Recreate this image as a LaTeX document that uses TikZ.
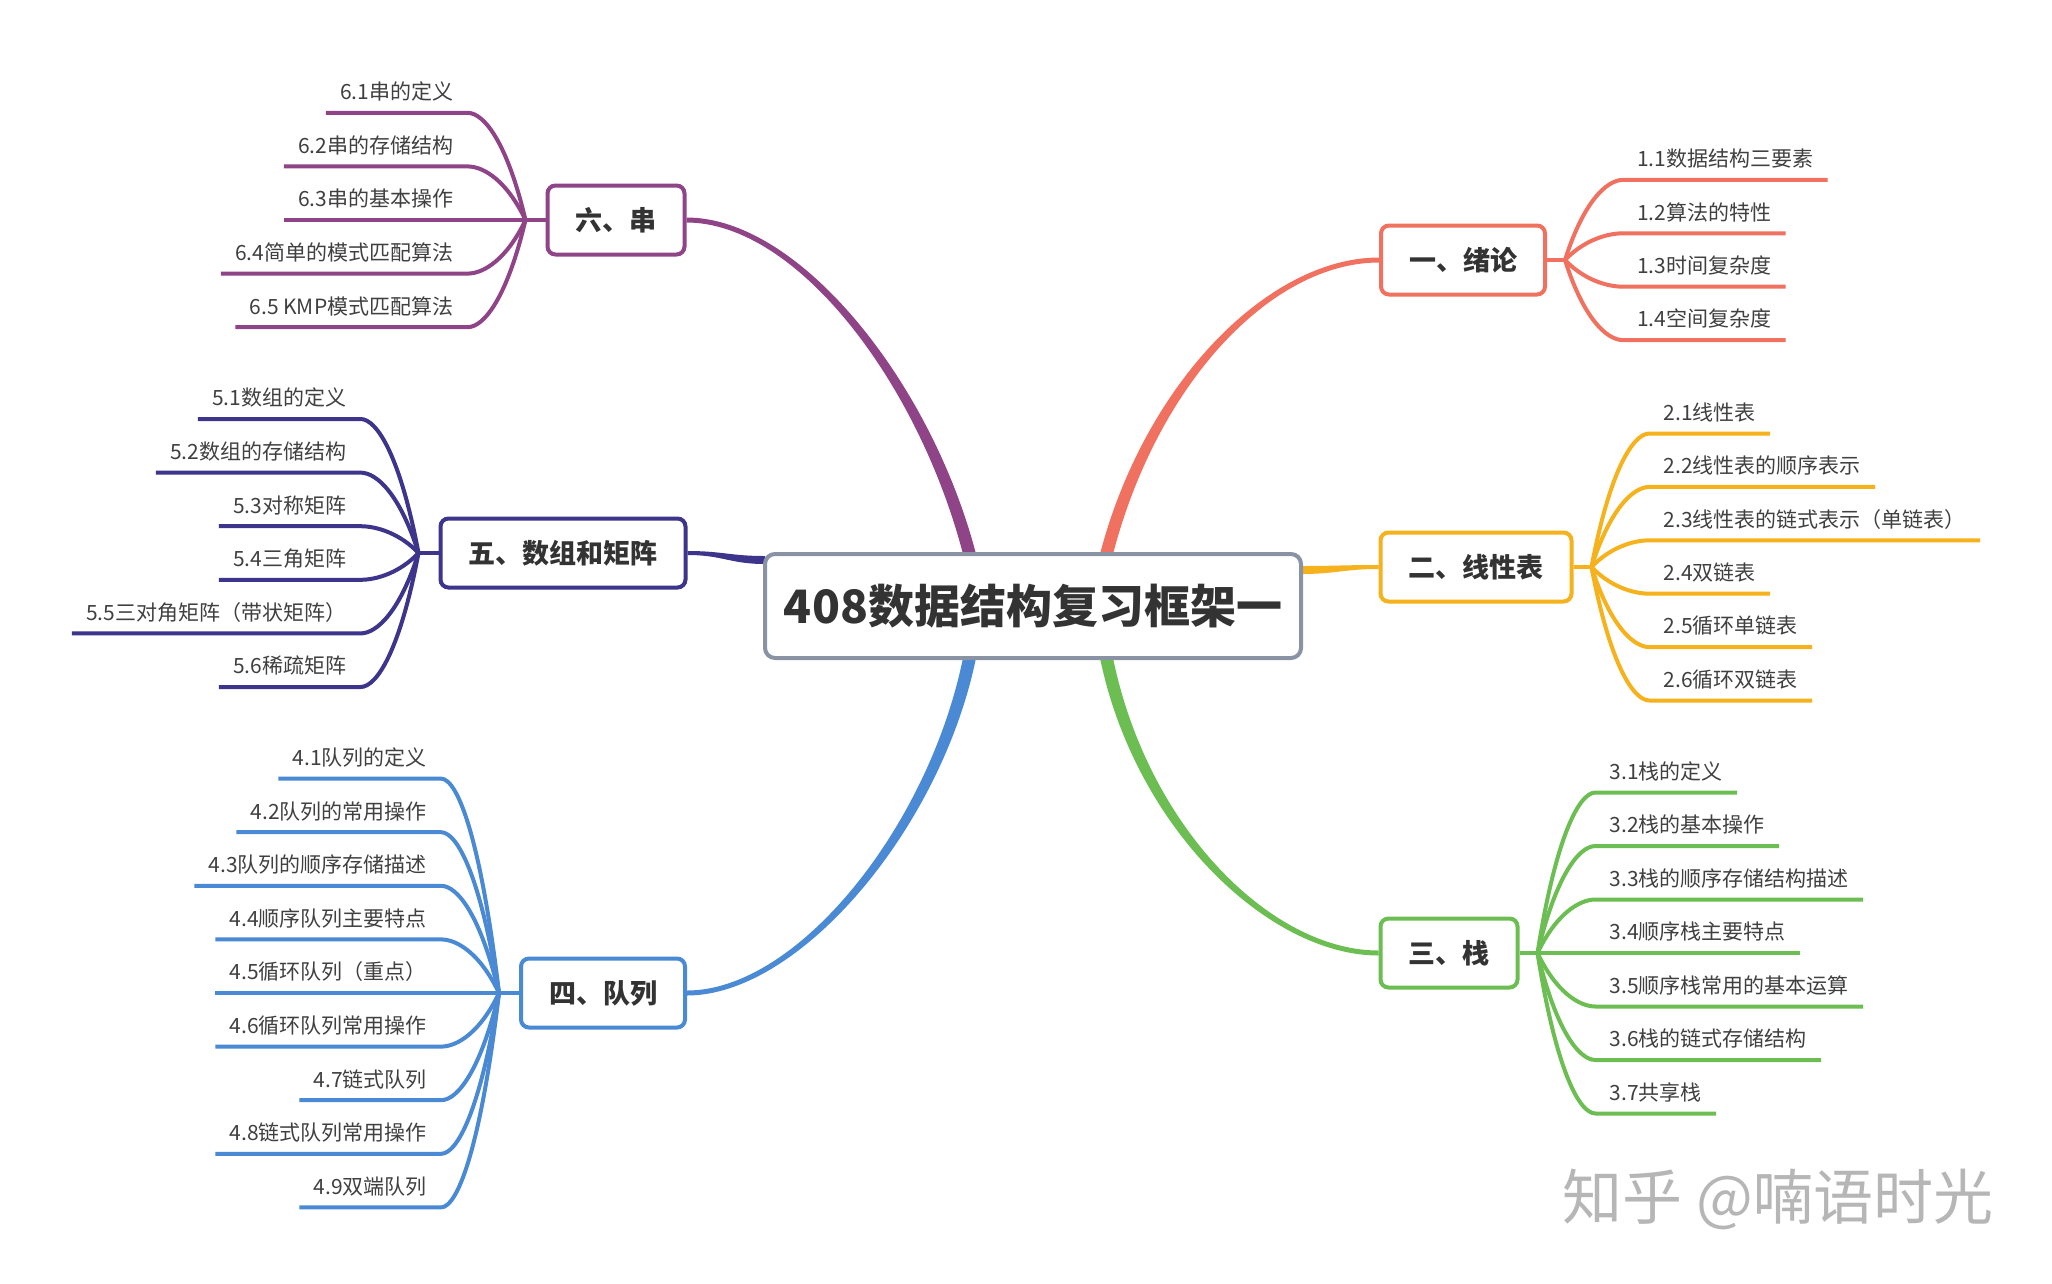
\documentclass[tikz,border=0pt]{standalone}
\usepackage{fontspec}
\setmainfont{Noto Sans CJK SC}
\usetikzlibrary{positioning, calc, backgrounds}
\definecolor{purple1}{RGB}{142,68,134}
\definecolor{indigo1}{RGB}{61,52,139}
\definecolor{blue1}{RGB}{74,138,212}
\definecolor{red1}{RGB}{240,113,95}
\definecolor{yellow1}{RGB}{246,178,28}
\definecolor{green1}{RGB}{108,190,82}
\definecolor{gray1}{RGB}{138,147,164}
\definecolor{ink1}{RGB}{51,51,51}
\definecolor{ink2}{RGB}{64,64,64}
\definecolor{mark1}{RGB}{182,182,182}
\tikzset{
  rootbox/.style={draw=gray1, line width=4pt, rounded corners=10pt, fill=white, text=ink1,
    font=\fontsize{46}{50}\selectfont\bfseries, minimum width=536pt, minimum height=104pt},
  branchbox/.style={draw=#1, line width=4pt, rounded corners=8pt, fill=white, text=ink1,
    font=\fontsize{27}{30}\selectfont\bfseries, minimum height=69pt, inner xsep=28pt},
  leafleft/.style={anchor=south east, text=ink2, font=\fontsize{21}{24}\selectfont,
    inner xsep=14pt, inner ysep=8pt, text height=16pt, text depth=5pt},
  leafright/.style={leafleft, anchor=south west},
  twig/.style={draw=#1, line width=4pt},
}

\begin{document}
\begin{tikzpicture}[x=1pt, y=-1pt]
  \begin{scope}[on background layer]
    \fill[white] (0,0) rectangle (2052,1283);
  \end{scope}
  \useasboundingbox (0,0) rectangle (2052,1283);

  % centre and the six chapters
  \node[rootbox] (root) at (1033,606) {408数据结构复习框架一};
  \node[branchbox=red1] (b1) at (1463,260) {一、绪论};
  \node[branchbox=yellow1] (b2) at (1476,567) {二、线性表};
  \node[branchbox=green1] (b3) at (1449,953) {三、栈};
  \node[branchbox=blue1] (b4) at (603,993) {四、队列};
  \node[branchbox=indigo1] (b5) at (563,553) {五、数组和矩阵};
  \node[branchbox=purple1] (b6) at (616,220) {六、串};
  \node[text=mark1, font=\fontsize{60}{64}\selectfont] (mark) at (1778,1199) {知乎 @喃语时光};

  \begin{scope}[on background layer]
    % tapered main branches
    \fill[purple1] ($(root.north)+(-70,2)$) .. controls +(-45,-172) and +(110,0) .. ($(b6.east)+(0,2.5)$)
      -- ($(b6.east)+(0,-2.5)$) .. controls +(113,0) and +(-45,-172) .. ($(root.north)+(-57,2)$) -- cycle;
    \fill[red1] ($(root.north)+(67,2)$) .. controls +(45,-172) and +(-110,0) .. ($(b1.west)+(0,-2.5)$)
      -- ($(b1.west)+(0,2.5)$) .. controls +(-107,0) and +(45,-172) .. ($(root.north)+(80,2)$) -- cycle;
    \fill[blue1] ($(root.south)+(-70,-2)$) .. controls +(-35,170) and +(110,0) .. ($(b4.east)+(0,-2.5)$)
      -- ($(b4.east)+(0,2.5)$) .. controls +(113,0) and +(-35,170) .. ($(root.south)+(-57,-2)$) -- cycle;
    \fill[green1] ($(root.south)+(67,-2)$) .. controls +(35,170) and +(-110,0) .. ($(b3.west)+(0,2.5)$)
      -- ($(b3.west)+(0,-2.5)$) .. controls +(-107,0) and +(35,170) .. ($(root.south)+(80,-2)$) -- cycle;
    \fill[yellow1] ($(root.east)+(-2,-40)$) .. controls +(35,0) and +(-35,0) .. ($(b2.west)+(0,-2)$)
      -- ($(b2.west)+(0,2)$) .. controls +(-35,0) and +(35,0) .. ($(root.east)+(-2,-32)$) -- cycle;
    \fill[indigo1] ($(root.west)+(2,-50)$) .. controls +(-35,0) and +(35,0) .. ($(b5.east)+(0,-2)$)
      -- ($(b5.east)+(0,2)$) .. controls +(35,0) and +(-35,0) .. ($(root.west)+(2,-42)$) -- cycle;

    % hubs
    \coordinate (h1) at ($(b1.east)+(18,0)$);
    \coordinate (h2) at ($(b2.east)+(18,0)$);
    \coordinate (h3) at ($(b3.east)+(18,0)$);
    \coordinate (h4) at ($(b4.west)+(-20,0)$);
    \coordinate (h5) at ($(b5.west)+(-20,0)$);
    \coordinate (h6) at ($(b6.west)+(-20,0)$);
    \draw[twig=red1] (b1.east) -- (h1);
    \draw[twig=yellow1] (b2.east) -- (h2);
    \draw[twig=green1] (b3.east) -- (h3);
    \draw[twig=blue1] (b4.west) -- (h4);
    \draw[twig=indigo1] (b5.west) -- (h5);
    \draw[twig=purple1] (b6.west) -- (h6);

    % right side leaves
    \foreach \txt [count=\i] in {1.1数据结构三要素, 1.2算法的特性, 1.3时间复杂度, 1.4空间复杂度} {
      \pgfmathsetmacro{\dy}{(\i-2.5)*53.4}
      \node[leafright] (l1\i) at ($(h1)+(58,\dy)$) {\txt};
      \draw[twig=red1] (h1) .. controls +(18,0.71*\dy) and +(-17,0) .. (l1\i.south west) -- (l1\i.south east);
    }
    \foreach \txt [count=\i] in {2.1线性表, 2.2线性表的顺序表示, 2.3线性表的链式表示（单链表）,
        2.4双链表, 2.5循环单链表, 2.6循环双链表} {
      \pgfmathsetmacro{\dy}{(\i-3.5)*53.4}
      \node[leafright] (l2\i) at ($(h2)+(58,\dy)$) {\txt};
      \draw[twig=yellow1] (h2) .. controls +(18,0.71*\dy) and +(-17,0) .. (l2\i.south west) -- (l2\i.south east);
    }
    \foreach \txt [count=\i] in {3.1栈的定义, 3.2栈的基本操作, 3.3栈的顺序存储结构描述, 3.4顺序栈主要特点,
        3.5顺序栈常用的基本运算, 3.6栈的链式存储结构, 3.7共享栈} {
      \pgfmathsetmacro{\dy}{(\i-4)*53.5}
      \node[leafright] (l3\i) at ($(h3)+(58,\dy)$) {\txt};
      \draw[twig=green1] (h3) .. controls +(18,0.71*\dy) and +(-17,0) .. (l3\i.south west) -- (l3\i.south east);
    }

    % left side leaves
    \foreach \txt [count=\i] in {4.1队列的定义, 4.2队列的常用操作, 4.3队列的顺序存储描述, 4.4顺序队列主要特点,
        4.5循环队列（重点）, 4.6循环队列常用操作, 4.7链式队列, 4.8链式队列常用操作, 4.9双端队列} {
      \pgfmathsetmacro{\dy}{(\i-5)*53.6}
      \node[leafleft] (l4\i) at ($(h4)+(-58,\dy)$) {\txt};
      \draw[twig=blue1] (h4) .. controls +(-18,0.71*\dy) and +(17,0) .. (l4\i.south east) -- (l4\i.south west);
    }
    \foreach \txt [count=\i] in {5.1数组的定义, 5.2数组的存储结构, 5.3对称矩阵, 5.4三角矩阵,
        5.5三对角矩阵（带状矩阵）, 5.6稀疏矩阵} {
      \pgfmathsetmacro{\dy}{(\i-3.5)*53.6}
      \node[leafleft] (l5\i) at ($(h5)+(-58,\dy)$) {\txt};
      \draw[twig=indigo1] (h5) .. controls +(-18,0.71*\dy) and +(17,0) .. (l5\i.south east) -- (l5\i.south west);
    }
    \foreach \txt [count=\i] in {6.1串的定义, 6.2串的存储结构, 6.3串的基本操作, 6.4简单的模式匹配算法,
        6.5 KMP模式匹配算法} {
      \pgfmathsetmacro{\dy}{(\i-3)*53.6}
      \node[leafleft] (l6\i) at ($(h6)+(-58,\dy)$) {\txt};
      \draw[twig=purple1] (h6) .. controls +(-18,0.71*\dy) and +(17,0) .. (l6\i.south east) -- (l6\i.south west);
    }
  \end{scope}
\end{tikzpicture}
\end{document}
